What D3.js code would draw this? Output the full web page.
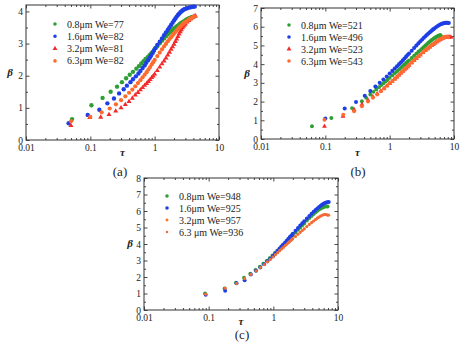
<!DOCTYPE html>
<html>
<head>
<meta charset="utf-8">
<script src="https://cdn.jsdelivr.net/npm/d3@7"></script>
<style>
  body { margin: 0; background: #fff; }
  svg { display: block; }
  svg text { font-family: "Liberation Serif", "DejaVu Serif", serif; fill: #222; }
</style>
</head>
<body>
<svg id="fig" width="474" height="351"></svg>
<script>
// ---- data: [tau, beta] ----

// panel (a)
const a08 = [[0.052,0.65],[0.104,1.08],[0.155,1.31],[0.207,1.5],[0.26,1.66],[0.31,1.8],[0.36,1.92],[0.41,2.03],[0.46,2.12],[0.52,2.22],[0.57,2.3],[0.62,2.38],[0.67,2.45],[0.72,2.52],[0.78,2.58],[0.83,2.64],[0.88,2.69],[0.93,2.74],[0.98,2.8],[1.05,2.87],[1.1,2.92],[1.2,3.01],[1.3,3.09],[1.4,3.16],[1.5,3.23],[1.6,3.29],[1.7,3.34],[1.8,3.39],[1.9,3.43],[2.0,3.47],[2.1,3.5],[2.2,3.53],[2.3,3.56],[2.4,3.59],[2.5,3.62],[2.6,3.64],[2.7,3.66],[2.8,3.68],[2.9,3.7],[3.0,3.72],[3.1,3.74],[3.2,3.75],[3.3,3.77],[3.4,3.78],[3.5,3.79],[3.6,3.8],[3.7,3.81],[3.8,3.82],[3.9,3.83],[4.0,3.83]];
const a16 = [[0.046,0.52],[0.091,0.78],[0.138,0.94],[0.184,1.14],[0.233,1.29],[0.28,1.45],[0.33,1.58],[0.37,1.69],[0.42,1.8],[0.46,1.89],[0.51,1.98],[0.56,2.07],[0.6,2.15],[0.65,2.24],[0.7,2.32],[0.74,2.4],[0.79,2.48],[0.84,2.56],[0.88,2.63],[0.93,2.71],[0.97,2.78],[1.02,2.86],[1.1,2.96],[1.2,3.06],[1.3,3.16],[1.4,3.26],[1.5,3.35],[1.6,3.43],[1.7,3.51],[1.8,3.58],[1.9,3.65],[2.0,3.72],[2.1,3.78],[2.2,3.84],[2.3,3.89],[2.4,3.93],[2.5,3.97],[2.6,4.0],[2.7,4.03],[2.8,4.05],[2.9,4.07],[3.0,4.08],[3.2,4.1],[3.4,4.12],[3.6,4.13],[3.8,4.14],[4.0,4.15],[4.2,4.15]];
const a32 = [[0.05,0.45],[0.098,0.7],[0.145,0.71],[0.195,0.79],[0.248,0.9],[0.3,1.0],[0.35,1.1],[0.4,1.2],[0.45,1.3],[0.5,1.4],[0.55,1.48],[0.6,1.56],[0.65,1.63],[0.7,1.7],[0.75,1.76],[0.8,1.82],[0.85,1.88],[0.9,1.94],[0.95,1.99],[1.0,2.05],[1.1,2.16],[1.2,2.27],[1.3,2.37],[1.4,2.46],[1.5,2.55],[1.6,2.64],[1.7,2.73],[1.8,2.82],[1.9,2.9],[2.0,2.98],[2.1,3.06],[2.2,3.14],[2.3,3.22],[2.4,3.3],[2.5,3.37],[2.6,3.43],[2.7,3.49],[2.8,3.54],[2.9,3.58],[3.0,3.61],[3.2,3.67],[3.4,3.72],[3.6,3.76],[3.8,3.8],[4.0,3.83],[4.2,3.85],[4.3,3.86]];
const a63 = [[0.05,0.58],[0.1,0.72],[0.15,0.86],[0.2,0.98],[0.25,1.11],[0.3,1.24],[0.35,1.36],[0.4,1.47],[0.45,1.57],[0.5,1.67],[0.55,1.77],[0.6,1.86],[0.65,1.95],[0.7,2.03],[0.75,2.11],[0.8,2.19],[0.85,2.27],[0.9,2.35],[0.95,2.42],[1.0,2.49],[1.1,2.61],[1.2,2.72],[1.3,2.82],[1.4,2.91],[1.5,2.99],[1.6,3.07],[1.7,3.14],[1.8,3.2],[1.9,3.26],[2.0,3.31],[2.1,3.36],[2.2,3.41],[2.3,3.45],[2.4,3.49],[2.5,3.53],[2.6,3.56],[2.7,3.59],[2.8,3.62],[2.9,3.65],[3.0,3.67],[3.2,3.71],[3.4,3.75],[3.6,3.78],[3.8,3.8],[4.0,3.83],[4.2,3.85]];
const legendA = ["0.8\u03bcm We=77", "1.6\u03bcm We=82", "3.2\u03bcm We=81", "6.3\u03bcm We=82"];

// panel (b)
const b08 = [[0.062,0.68],[0.124,1.12],[0.26,1.65],[0.37,2.02],[0.43,2.2],[0.5,2.38],[0.56,2.52],[0.62,2.65],[0.68,2.77],[0.74,2.88],[0.8,2.98],[0.87,3.08],[0.93,3.17],[1.0,3.27],[1.1,3.4],[1.2,3.52],[1.3,3.62],[1.4,3.72],[1.5,3.81],[1.6,3.9],[1.7,3.98],[1.8,4.06],[1.9,4.13],[2.0,4.2],[2.2,4.33],[2.4,4.45],[2.6,4.56],[2.8,4.66],[3.0,4.75],[3.2,4.84],[3.4,4.92],[3.6,5.0],[3.8,5.07],[4.0,5.14],[4.2,5.2],[4.4,5.26],[4.6,5.31],[4.8,5.36],[5.0,5.4],[5.2,5.44],[5.4,5.47],[5.6,5.5],[5.8,5.52],[6.0,5.54],[6.2,5.55]];
const b16 = [[0.1,1.1],[0.2,1.63],[0.3,1.98],[0.41,2.31],[0.5,2.56],[0.6,2.8],[0.7,3.0],[0.8,3.18],[0.9,3.34],[1.0,3.5],[1.1,3.64],[1.2,3.77],[1.3,3.89],[1.4,4.0],[1.5,4.1],[1.6,4.2],[1.7,4.3],[1.8,4.4],[1.9,4.49],[2.0,4.57],[2.2,4.72],[2.4,4.86],[2.6,4.99],[2.8,5.11],[3.0,5.22],[3.2,5.32],[3.4,5.41],[3.6,5.49],[3.8,5.57],[4.0,5.64],[4.2,5.7],[4.4,5.76],[4.6,5.82],[4.8,5.87],[5.0,5.92],[5.3,5.98],[5.6,6.04],[5.9,6.09],[6.2,6.13],[6.5,6.16],[6.8,6.18],[7.1,6.2],[7.4,6.21],[7.7,6.21],[8.0,6.21],[8.3,6.2]];
const b32 = [[0.097,0.68],[0.188,1.21],[0.28,1.57],[0.37,1.85],[0.46,2.08],[0.55,2.26],[0.64,2.42],[0.73,2.57],[0.82,2.71],[0.91,2.84],[1.0,2.96],[1.1,3.08],[1.2,3.2],[1.3,3.31],[1.4,3.42],[1.5,3.52],[1.6,3.61],[1.7,3.7],[1.8,3.78],[1.9,3.86],[2.0,3.93],[2.2,4.07],[2.4,4.19],[2.6,4.3],[2.8,4.4],[3.0,4.49],[3.3,4.61],[3.6,4.72],[3.9,4.82],[4.2,4.91],[4.5,4.99],[4.8,5.06],[5.1,5.13],[5.4,5.19],[5.7,5.25],[6.0,5.3],[6.3,5.34],[6.6,5.38],[6.9,5.41],[7.2,5.43],[7.5,5.44],[7.8,5.45],[8.1,5.45],[8.4,5.45],[8.7,5.44],[9.0,5.44]];
const b63 = [[0.097,1.03],[0.19,1.3],[0.28,1.48],[0.37,1.75],[0.46,2.0],[0.55,2.2],[0.64,2.38],[0.73,2.55],[0.82,2.7],[0.91,2.85],[1.0,2.98],[1.1,3.1],[1.2,3.22],[1.3,3.33],[1.4,3.44],[1.5,3.54],[1.6,3.63],[1.7,3.72],[1.8,3.8],[1.9,3.88],[2.0,3.95],[2.2,4.09],[2.4,4.21],[2.6,4.32],[2.8,4.42],[3.0,4.51],[3.3,4.63],[3.6,4.74],[3.9,4.84],[4.2,4.93],[4.5,5.01],[4.8,5.08],[5.1,5.15],[5.4,5.21],[5.7,5.27],[6.0,5.32],[6.3,5.36],[6.6,5.39],[6.9,5.42],[7.2,5.44],[7.5,5.45],[7.8,5.45],[8.1,5.44]];
const legendB = ["0.8\u03bcm We=521", "1.6\u03bcm We=496", "3.2\u03bcm We=523", "6.3\u03bcm We=543"];

// panel (c)
const c08 = [[0.088,1.0],[0.176,1.3],[0.264,1.65],[0.352,1.95],[0.44,2.2],[0.53,2.42],[0.62,2.62],[0.7,2.8],[0.79,2.98],[0.88,3.14],[0.97,3.3],[1.06,3.45],[1.15,3.59],[1.24,3.72],[1.32,3.84],[1.41,3.95],[1.5,4.05],[1.6,4.15],[1.7,4.25],[1.8,4.35],[1.9,4.44],[2.0,4.53],[2.2,4.7],[2.4,4.86],[2.6,5.0],[2.8,5.13],[3.0,5.25],[3.3,5.42],[3.6,5.57],[3.9,5.7],[4.2,5.82],[4.5,5.92],[4.8,6.01],[5.1,6.09],[5.4,6.15],[5.7,6.2],[6.0,6.24],[6.3,6.27],[6.6,6.28],[6.9,6.27]];
const c16 = [[0.09,0.92],[0.18,1.17],[0.27,1.62],[0.36,1.8],[0.45,2.15],[0.54,2.38],[0.63,2.58],[0.72,2.77],[0.81,2.95],[0.9,3.12],[0.99,3.28],[1.08,3.44],[1.17,3.59],[1.26,3.73],[1.35,3.86],[1.44,3.98],[1.53,4.1],[1.62,4.21],[1.71,4.32],[1.8,4.42],[1.9,4.52],[2.0,4.62],[2.2,4.8],[2.4,4.97],[2.6,5.12],[2.8,5.26],[3.0,5.38],[3.3,5.55],[3.6,5.7],[3.9,5.84],[4.2,5.96],[4.5,6.07],[4.8,6.16],[5.1,6.25],[5.4,6.32],[5.7,6.39],[6.0,6.44],[6.3,6.49],[6.6,6.52],[6.9,6.54],[7.2,6.55]];
const c32 = [[0.09,0.95],[0.18,1.32],[0.27,1.6],[0.36,1.9],[0.45,2.15],[0.54,2.37],[0.63,2.57],[0.72,2.75],[0.81,2.92],[0.9,3.08],[0.99,3.22],[1.08,3.36],[1.17,3.48],[1.26,3.6],[1.35,3.71],[1.44,3.81],[1.53,3.91],[1.62,4.0],[1.71,4.08],[1.8,4.16],[1.9,4.24],[2.0,4.32],[2.2,4.46],[2.4,4.59],[2.6,4.71],[2.8,4.82],[3.0,4.92],[3.3,5.06],[3.6,5.19],[3.9,5.3],[4.2,5.4],[4.5,5.49],[4.8,5.57],[5.1,5.64],[5.4,5.7],[5.7,5.75],[6.0,5.78],[6.3,5.79],[6.6,5.78],[6.9,5.76],[7.2,5.74]];
const c63 = [[0.09,0.97],[0.18,1.34],[0.27,1.62],[0.36,1.91],[0.45,2.16],[0.54,2.37],[0.63,2.56],[0.72,2.74],[0.81,2.9],[0.9,3.06],[0.99,3.2],[1.08,3.34],[1.17,3.46],[1.26,3.58],[1.35,3.69],[1.44,3.79],[1.53,3.89],[1.62,3.98],[1.71,4.06],[1.8,4.14],[1.9,4.22],[2.0,4.3],[2.2,4.44],[2.4,4.57],[2.6,4.69],[2.8,4.8],[3.0,4.9],[3.3,5.04],[3.6,5.17],[3.9,5.28],[4.2,5.38],[4.5,5.47],[4.8,5.55],[5.1,5.62],[5.4,5.68],[5.7,5.73],[6.0,5.76],[6.3,5.77],[6.6,5.76],[6.9,5.74]];
const legendC = ["0.8\u03bcm We=948", "1.6\u03bcm We=925", "3.2\u03bcm We=957", "6.3 \u03bcm We=936"];

const tauTicks = [0.01, 0.1, 1, 10];
const tauLabels = ["0.01", "0.1", "1", "10"];

// ---- drawing ----
const svg = d3.select('#fig');
const serif = '"Liberation Serif", "DejaVu Serif", serif';

const green = '#2f9e34', blue = '#1e3ee6', red = '#f42a2a', orange = '#ff6b2e';

const panels = [
  { left: 26, right: 219, top: 5, bottom: 140, ymax: 4.2, yticks: [0,1,2,3,4],
    letter: '(a)', letterX: 120, letterY: 176, tauY: 156, betaX: 10,
    legX: 55, legY: 24, legGap: 12.3, legText: legendA,
    series: [
      { data: a08, color: green, shape: 'circle', size: 15 },
      { data: a16, color: blue, shape: 'circle', size: 15 },
      { data: a32, color: red, shape: 'triangle', size: 11 },
      { data: a63, color: orange, shape: 'circle', size: 14 }
    ] },
  { left: 261, right: 454, top: 8, bottom: 139, ymax: 7, yticks: [0,1,2,3,4,5,6,7],
    letter: '(b)', letterX: 358, letterY: 176, tauY: 156, betaX: 247,
    legX: 289, legY: 25, legGap: 12, legText: legendB,
    series: [
      { data: b08, color: green, shape: 'circle', size: 12 },
      { data: b16, color: blue, shape: 'circle', size: 13 },
      { data: b32, color: red, shape: 'triangle', size: 10 },
      { data: b63, color: orange, shape: 'circle', size: 12 }
    ] },
  { left: 144, right: 338, top: 178, bottom: 310, ymax: 8, yticks: [0,1,2,3,4,5,6,7,8],
    letter: '(c)', letterX: 242, letterY: 339, tauY: 325, betaX: 130,
    legX: 167, legY: 196, legGap: 12, legText: legendC,
    series: [
      { data: c08, color: green, shape: 'circle', size: 12 },
      { data: c16, color: blue, shape: 'circle', size: 12 },
      { data: c32, color: '#f0782a', shape: 'circle', size: 7 },
      { data: c63, color: '#f26a3c', shape: 'circle', size: 5 }
    ] }
];

const minorTau = [];
[0.01, 0.1, 1].forEach(dec => { for (let k = 2; k <= 9; k++) minorTau.push(dec * k); });

function symbolOf(s, size) {
  return d3.symbol().type(s.shape === 'triangle' ? d3.symbolTriangle : d3.symbolCircle).size(size || s.size);
}

panels.forEach(p => {
  const x = d3.scaleLog().domain([0.01, 10]).range([p.left, p.right]);
  const y = d3.scaleLinear().domain([0, p.ymax]).range([p.bottom, p.top]);
  const g = svg.append('g');

  const yMinor = d3.range(0.5, p.ymax, 1).filter(v => v < p.ymax);

  // bottom axis, ticks inward
  g.append('g').attr('transform', `translate(0,${p.bottom})`)
    .call(d3.axisBottom(x).tickValues(tauTicks).tickFormat((d, i) => tauLabels[i]).tickSizeInner(-3.5).tickSizeOuter(0).tickPadding(4));
  g.append('g').attr('transform', `translate(0,${p.bottom})`)
    .call(d3.axisBottom(x).tickValues(minorTau).tickFormat('').tickSizeInner(-2).tickSizeOuter(0));
  // top axis
  g.append('g').attr('transform', `translate(0,${p.top})`)
    .call(d3.axisTop(x).tickValues(tauTicks).tickFormat('').tickSizeInner(-3.5).tickSizeOuter(0));
  g.append('g').attr('transform', `translate(0,${p.top})`)
    .call(d3.axisTop(x).tickValues(minorTau).tickFormat('').tickSizeInner(-2).tickSizeOuter(0));
  // left axis
  g.append('g').attr('transform', `translate(${p.left},0)`)
    .call(d3.axisLeft(y).tickValues(p.yticks).tickFormat(d3.format('d')).tickSizeInner(-3.5).tickSizeOuter(0).tickPadding(3));
  g.append('g').attr('transform', `translate(${p.left},0)`)
    .call(d3.axisLeft(y).tickValues(yMinor).tickFormat('').tickSizeInner(-2).tickSizeOuter(0));
  // right axis
  g.append('g').attr('transform', `translate(${p.right},0)`)
    .call(d3.axisRight(y).tickValues(p.yticks).tickFormat('').tickSizeInner(-3.5).tickSizeOuter(0));
  g.append('g').attr('transform', `translate(${p.right},0)`)
    .call(d3.axisRight(y).tickValues(yMinor).tickFormat('').tickSizeInner(-2).tickSizeOuter(0));

  g.selectAll('.domain').remove();
  g.selectAll('g').attr('font-family', serif);
  g.selectAll('.tick line').attr('stroke', '#333').attr('stroke-width', 0.9);
  g.selectAll('.tick text').attr('font-size', 9.5).attr('fill', '#222')
    .attr('font-family', serif);

  g.append('rect')
    .attr('x', p.left).attr('y', p.top)
    .attr('width', p.right - p.left).attr('height', p.bottom - p.top)
    .attr('fill', 'none').attr('stroke', '#333').attr('stroke-width', 1);

  // points
  p.series.forEach(s => {
    const sym = symbolOf(s);
    g.append('g').selectAll('path').data(s.data).join('path')
      .attr('d', sym)
      .attr('transform', d => `translate(${x(d[0])},${y(d[1])})`)
      .attr('fill', s.color);
  });

  // legend
  p.series.forEach((s, i) => {
    const ly = p.legY + i * p.legGap;
    g.append('path').attr('d', symbolOf(s, Math.min(s.size, 10))())
      .attr('transform', `translate(${p.legX},${ly})`).attr('fill', s.color);
    g.append('text').attr('x', p.legX + 12).attr('y', ly + 3.5)
      .attr('font-family', serif).attr('font-size', 10).text(p.legText[i]);
  });

  // axis titles
  g.append('text').attr('x', (p.left + p.right) / 2).attr('y', p.tauY)
    .attr('text-anchor', 'middle').attr('font-family', serif).attr('font-size', 11)
    .attr('font-style', 'italic').attr('font-weight', 'bold').text('\u03c4');
  g.append('text').attr('x', p.betaX).attr('y', (p.top + p.bottom) / 2 + 3)
    .attr('text-anchor', 'middle').attr('font-family', serif).attr('font-size', 11)
    .attr('font-style', 'italic').attr('font-weight', 'bold').text('\u03b2');

  g.append('text').attr('x', p.letterX).attr('y', p.letterY)
    .attr('text-anchor', 'middle').attr('font-family', serif).attr('font-size', 13).text(p.letter);
});
</script>
</body>
</html>
